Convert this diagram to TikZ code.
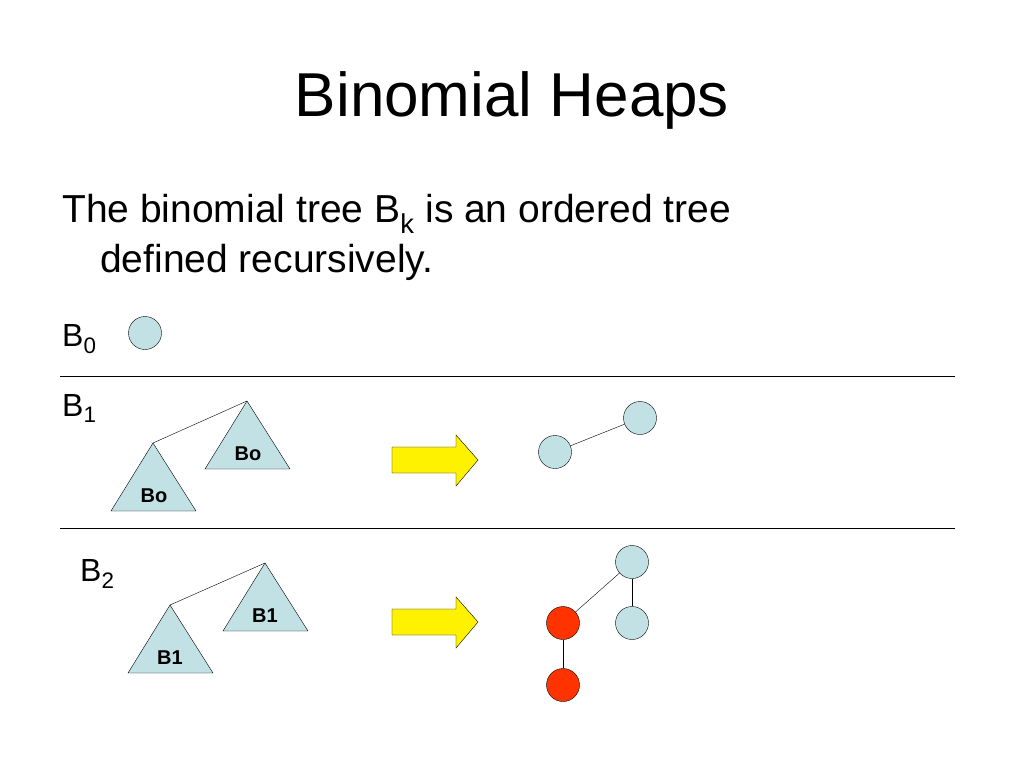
\documentclass[tikz,border=0pt]{standalone}
\usepackage{fontspec}
\setmainfont{Liberation Sans}
\usetikzlibrary{shapes.geometric,shapes.arrows}
\definecolor{lblue}{RGB}{193,225,229}
\definecolor{hred}{RGB}{255,51,0}

\begin{document}
\begin{tikzpicture}[x=1pt, y=-1pt,
         key/.style={circle, draw=black, fill=lblue, minimum size=33pt, inner sep=0pt},
         redkey/.style={key, fill=hred},
         subtree/.style={draw=black, fill=lblue},
         bigarrow/.style={draw=black, fill=yellow}]
   \useasboundingbox (0,0) rectangle (1024,768);
   \node (title) at (512,100) {\fontsize{62}{66}\selectfont Binomial Heaps};
   \node[anchor=base west, inner sep=0pt] (line1) at (62,222) {\fontsize{39}{44}\selectfont The binomial tree B\textsubscript{k} is an ordered tree};
   \node[anchor=base west, inner sep=0pt] (line2) at (100,272) {\fontsize{39}{44}\selectfont defined recursively.};
   %% B0
   \node[anchor=base west, inner sep=0pt] (lzero) at (62,346) {\fontsize{32}{36}\selectfont B\textsubscript{0}};
   \node[key] (z) at (145,333) {};
   \draw (60,376) -- (955,376);
   \draw (60,528) -- (955,528);
   %% B1
   \node[anchor=base west, inner sep=0pt] (lone) at (62,416) {\fontsize{32}{36}\selectfont B\textsubscript{1}};
   \foreach \x \y \w in {153/443/Bo, 247/401/Bo}{
      \draw [subtree] (\x,\y) -- (\x-42,\y+68) -- (\x+43,\y+68) -- cycle;
      \node at (\x+1,\y+53) {\fontsize{20}{22}\selectfont\bfseries \w};
   };
   \draw (153,443) -- (247,401);
   \draw [bigarrow] (392,447) -- (456,447) -- (456,435) -- (478,460) -- (456,486) -- (456,473) -- (392,473) -- cycle;
   \node[key] (a) at (555,452) {};
   \node[key] (b) at (640,418) {};
   \draw (a) -- (b);
   %% B2
   \node[anchor=base west, inner sep=0pt] (ltwo) at (80,581) {\fontsize{32}{36}\selectfont B\textsubscript{2}};
   \foreach \x \y \w in {170/605/B1, 265/563/B1}{
      \draw [subtree] (\x,\y) -- (\x-42,\y+68) -- (\x+43,\y+68) -- cycle;
      \node at (\x,\y+53) {\fontsize{20}{22}\selectfont\bfseries \w};
   };
   \draw (170,605) -- (265,563);
   \draw [bigarrow] (392,609) -- (456,609) -- (456,597) -- (478,622) -- (456,648) -- (456,635) -- (392,635) -- cycle;
   \node[key] (r) at (632,562) {};
   \node[key] (s) at (632,623) {};
   \node[redkey] (t) at (563,623) {};
   \node[redkey] (u) at (563,685) {};
   \draw (r) -- (s);
   \draw (r) -- (t);
   \draw (t) -- (u);
\end{tikzpicture}
\end{document}
